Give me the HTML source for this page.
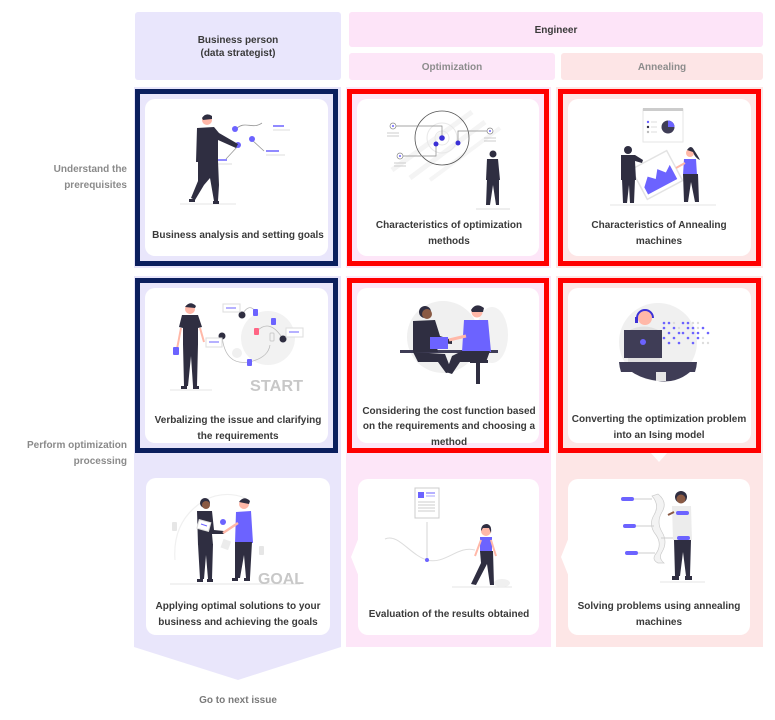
<!DOCTYPE html>
<html><head><meta charset="utf-8"><style>
html,body{margin:0;padding:0;background:#fff;}
svg{display:block;}
text{font-family:"Liberation Sans",Arial,sans-serif;}
.t{font-size:10px;font-weight:bold;fill:#3a3a3a;text-anchor:middle;}
.l{font-size:10px;font-weight:bold;fill:#8a8a8a;text-anchor:end;}
</style></head><body>
<svg width="775" height="720" viewBox="0 0 775 720" xmlns="http://www.w3.org/2000/svg">
<!-- headers -->
<rect x="135" y="12" width="206" height="68" rx="3" fill="#e9e6fc"/>
<rect x="349" y="12" width="414" height="35" rx="3" fill="#fde4f8"/>
<rect x="349" y="53" width="206" height="27" rx="3" fill="#fde6f8"/>
<rect x="561" y="53" width="202" height="27" rx="3" fill="#fde5e6"/>
<text class="t" x="238" y="43" fill="#333">Business person</text>
<text class="t" x="238" y="56" fill="#333">(data strategist)</text>
<text class="t" x="556" y="33">Engineer</text>
<text class="t" x="452" y="70" style="fill:#8c8c8c">Optimization</text>
<text class="t" x="662" y="70" style="fill:#8c8c8c">Annealing</text>

<!-- column backgrounds -->
<rect x="134" y="87" width="207" height="181" fill="#e9e6fb"/>
<rect x="346" y="87" width="205" height="181" fill="#fde6f8"/>
<rect x="556" y="87" width="207" height="181" fill="#fde6e6"/>
<polygon points="134,276 341,276 341,647 238,680 134,647" fill="#e9e6fb"/>
<rect x="346" y="276" width="205" height="371" fill="#fde6f8"/>
<rect x="556" y="276" width="207" height="371" fill="#fde6e6"/>

<!-- left labels -->
<text class="l" x="127" y="172">Understand the</text>
<text class="l" x="127" y="188">prerequisites</text>
<text class="l" x="127" y="448">Perform optimization</text>
<text class="l" x="127" y="464">processing</text>
<text class="t" x="238" y="703" style="fill:#7a7a7a">Go to next issue</text>

<!-- row 1 cards -->
<rect x="145" y="99" width="183" height="157" rx="10" fill="#fff"/>
<rect x="357" y="99" width="182" height="157" rx="10" fill="#fff"/>
<rect x="568" y="99" width="183" height="157" rx="10" fill="#fff"/>
<rect x="137.5" y="91.5" width="198" height="172" fill="none" stroke="#0b1f5e" stroke-width="5"/>
<rect x="349.5" y="91.5" width="197" height="172" fill="none" stroke="#ff0000" stroke-width="5"/>
<rect x="560.5" y="91.5" width="198" height="172" fill="none" stroke="#ff0000" stroke-width="5"/>

<!-- row 2 cards -->
<rect x="145" y="288" width="183" height="155" rx="10" fill="#fff"/>
<rect x="357" y="288" width="182" height="155" rx="10" fill="#fff"/>
<rect x="568" y="288" width="183" height="155" rx="10" fill="#fff"/>
<polygon points="650,452 668,452 659,462" fill="#fff"/>
<rect x="137.5" y="280.5" width="198" height="170" fill="none" stroke="#0b1f5e" stroke-width="5"/>
<rect x="349.5" y="280.5" width="197" height="170" fill="none" stroke="#ff0000" stroke-width="5"/>
<rect x="560.5" y="280.5" width="198" height="170" fill="none" stroke="#ff0000" stroke-width="5"/>

<!-- row 3 cards -->
<rect x="146" y="478" width="184" height="157" rx="10" fill="#fff"/>
<rect x="358" y="479" width="181" height="156" rx="10" fill="#fff"/>
<rect x="568" y="479" width="182" height="156" rx="10" fill="#fff"/>
<polygon points="359,537 351,557 359,577" fill="#fff"/>
<polygon points="569,537 561,557 569,577" fill="#fff"/>

<!-- texts -->
<text class="t" x="238" y="238">Business analysis and setting goals</text>
<text class="t" x="449" y="228">Characteristics of optimization</text>
<text class="t" x="449" y="244">methods</text>
<text class="t" x="659" y="228">Characteristics of Annealing</text>
<text class="t" x="659" y="244">machines</text>
<text class="t" x="238" y="423">Verbalizing the issue and clarifying</text>
<text class="t" x="238" y="439">the requirements</text>
<text class="t" x="449" y="414">Considering the cost function based</text>
<text class="t" x="449" y="429">on the requirements and choosing a</text>
<text class="t" x="449" y="445">method</text>
<text class="t" x="659" y="422">Converting the optimization problem</text>
<text class="t" x="659" y="438">into an Ising model</text>
<text class="t" x="238" y="609">Applying optimal solutions to your</text>
<text class="t" x="238" y="625">business and achieving the goals</text>
<text class="t" x="449" y="617">Evaluation of the results obtained</text>
<text class="t" x="659" y="609">Solving problems using annealing</text>
<text class="t" x="659" y="625">machines</text>

<!-- ===== B1 illustration ===== -->
<g>
<line x1="180" y1="204" x2="236" y2="204" stroke="#e6e6e6" stroke-width="1"/>
<path d="M236,129 C245,120 252,130 262,123" stroke="#999" fill="none" stroke-width="0.8"/>
<line x1="252" y1="140" x2="264" y2="151" stroke="#999" stroke-width="0.8"/>
<line x1="238" y1="146" x2="226" y2="159" stroke="#999" stroke-width="0.8"/>
<line x1="273" y1="126" x2="284" y2="126" stroke="#6c63ff" stroke-width="1.5"/>
<line x1="273" y1="130" x2="290" y2="130" stroke="#ddd" stroke-width="1"/>
<line x1="266" y1="151" x2="279" y2="151" stroke="#6c63ff" stroke-width="1.5"/>
<line x1="266" y1="155" x2="285" y2="155" stroke="#ddd" stroke-width="1"/>
<line x1="215" y1="160" x2="227" y2="160" stroke="#6c63ff" stroke-width="1.5"/>
<line x1="215" y1="164" x2="232" y2="164" stroke="#ddd" stroke-width="1"/>
<circle cx="235" cy="129" r="3" fill="#6c63ff"/>
<circle cx="252" cy="139" r="3" fill="#6c63ff"/>
<circle cx="238" cy="145" r="3" fill="#6c63ff"/>
<circle cx="207" cy="120" r="5" fill="#ffb8a8"/>
<path d="M202,118 Q206,112 212,116 L212,119 L203,120 Z" fill="#2f2e41"/>
<path d="M197,128 L214,127 L219,133 L238,144 L236,148 L218,140 L218,162 L196,162 Z" fill="#2f2e41"/>
<path d="M198,161 L218,161 L219,185 L218,201 L214,201 L210,178 L204,185 L195,200 L191,198 L198,181 Z" fill="#2f2e41"/>
<rect x="189" y="199" width="6" height="3" fill="#2f2e41"/>
<rect x="213" y="201" width="6" height="3" fill="#2f2e41"/>
</g>

<!-- ===== O1 illustration ===== -->
<g>
<line x1="392" y1="170" x2="472" y2="112" stroke="#f4f4f4" stroke-width="5"/>
<line x1="410" y1="178" x2="485" y2="122" stroke="#f4f4f4" stroke-width="5"/>
<line x1="430" y1="180" x2="500" y2="128" stroke="#f5f5f5" stroke-width="4"/>
<circle cx="442" cy="138" r="27" fill="none" stroke="#555" stroke-width="0.8"/>
<circle cx="442" cy="138" r="15" fill="none" stroke="#e8e8e8" stroke-width="1"/>
<circle cx="442" cy="138" r="7" fill="none" stroke="#e8e8e8" stroke-width="1"/>
<polyline points="396,126 442,126 442,137" fill="none" stroke="#888" stroke-width="0.7"/>
<polyline points="403,156 436,156 436,144" fill="none" stroke="#888" stroke-width="0.7"/>
<polyline points="487,131 458,131 458,143" fill="none" stroke="#888" stroke-width="0.7"/>
<circle cx="393" cy="126" r="3" fill="#fff" stroke="#888" stroke-width="0.7"/><circle cx="393" cy="126" r="1" fill="#6c63ff"/>
<circle cx="400" cy="156" r="3" fill="#fff" stroke="#888" stroke-width="0.7"/><circle cx="400" cy="156" r="1" fill="#6c63ff"/>
<circle cx="490" cy="131" r="3" fill="#fff" stroke="#888" stroke-width="0.7"/><circle cx="490" cy="131" r="1" fill="#6c63ff"/>
<line x1="387" y1="133" x2="399" y2="133" stroke="#ccc"/><line x1="387" y1="136" x2="399" y2="136" stroke="#ccc"/>
<line x1="394" y1="163" x2="406" y2="163" stroke="#ccc"/><line x1="394" y1="166" x2="406" y2="166" stroke="#ccc"/>
<line x1="484" y1="138" x2="496" y2="138" stroke="#ccc"/><line x1="484" y1="141" x2="496" y2="141" stroke="#ccc"/>
<circle cx="442" cy="138" r="2.8" fill="#3b30d6"/>
<circle cx="436" cy="144" r="2.5" fill="#3b30d6"/>
<circle cx="458" cy="143" r="2.5" fill="#3b30d6"/>
<line x1="476" y1="209" x2="510" y2="209" stroke="#ddd"/>
<circle cx="493" cy="154" r="3.5" fill="#2f2e41"/>
<path d="M487,159 L498,159 L500,180 L486,180 Z" fill="#2f2e41"/>
<path d="M487,179 L499,179 L499,205 L496,205 L493,185 L490,205 L486,205 Z" fill="#2f2e41"/>
</g>

<!-- ===== A1 illustration ===== -->
<g>
<rect x="643" y="109" width="40" height="33" fill="#fff" stroke="#e6e6e6"/>
<rect x="643" y="108" width="40" height="3" fill="#ccc"/>
<circle cx="668" cy="127" r="6.5" fill="#3f3d56"/>
<path d="M668,127 L668,120.5 A6.5,6.5 0 0 1 674.5,127 Z" fill="#6c63ff"/>
<circle cx="648" cy="122" r="1.2" fill="#6c63ff"/><line x1="651" y1="122" x2="657" y2="122" stroke="#ddd"/>
<circle cx="648" cy="127" r="1.2" fill="#2f2e41"/><line x1="651" y1="127" x2="657" y2="127" stroke="#ddd"/>
<circle cx="648" cy="132" r="1.2" fill="#bbb"/><line x1="651" y1="132" x2="657" y2="132" stroke="#ddd"/>
<g transform="rotate(-28 657 175)">
<rect x="637" y="158" width="40" height="34" fill="#fff" stroke="#e3e3e3" stroke-width="1.5"/>
<polygon points="640,180 648,172 654,178 660,170 666,177 673,172 673,188 640,188" fill="#6c63ff"/>
</g>
<line x1="610" y1="205" x2="716" y2="205" stroke="#e6e6e6"/>
<circle cx="628" cy="150" r="4" fill="#2f2e41"/>
<path d="M621,155 L635,155 L643,160 L642,163 L635,161 L636,180 L621,180 Z" fill="#2f2e41"/>
<path d="M622,179 L635,179 L634,203 L630,203 L629,185 L627,203 L623,203 Z" fill="#2f2e41"/>
<circle cx="690" cy="153" r="4" fill="#ffb8a8"/>
<path d="M687,150 Q691,144 694,150 Q698,156 700,160 Q695,158 693,152 Z" fill="#2f2e41"/>
<path d="M684,159 L696,159 L697,175 L683,175 Z" fill="#6c63ff"/>
<line x1="685" y1="163" x2="676" y2="168" stroke="#ffb8a8" stroke-width="2"/>
<path d="M683,174 L698,174 L699,202 L695,202 L691,182 L688,202 L684,202 Z" fill="#2f2e41"/>
</g>

<!-- ===== B2 illustration ===== -->
<g>
<circle cx="268" cy="338" r="27" fill="#f2f2f2"/>
<circle cx="237" cy="353" r="5" fill="#f0f0f0"/>
<path d="M222,336 Q225,366 249,362 Q268,358 270,345" fill="none" stroke="#bbb" stroke-width="0.8"/>
<path d="M242,315 Q249,302 256,312" fill="none" stroke="#bbb" stroke-width="0.8"/>
<path d="M257,331 Q270,318 283,339" fill="none" stroke="#bbb" stroke-width="0.8"/>
<circle cx="222" cy="336" r="3.5" fill="#2f2e41"/>
<circle cx="242" cy="315" r="3.5" fill="#2f2e41"/>
<circle cx="283" cy="339" r="3.5" fill="#2f2e41"/>
<rect x="223" y="304" width="17" height="8" fill="#fff" stroke="#ddd"/><line x1="226" y1="308" x2="236" y2="308" stroke="#6c63ff"/>
<rect x="206" y="338" width="16" height="9" fill="#fff" stroke="#ddd"/><line x1="209" y1="342" x2="219" y2="342" stroke="#6c63ff"/>
<rect x="286" y="328" width="17" height="9" fill="#fff" stroke="#ddd"/><line x1="289" y1="332" x2="299" y2="332" stroke="#6c63ff"/>
<rect x="253" y="309" width="5" height="7" rx="1" fill="#6c63ff"/>
<rect x="271" y="318" width="5" height="7" rx="1" fill="#6c63ff"/>
<rect x="254" y="328" width="5" height="7" rx="1" fill="#ff6584"/>
<rect x="270" y="333" width="4" height="8" rx="1" fill="none" stroke="#ccc"/>
<rect x="247" y="359" width="5" height="7" rx="1" fill="#6c63ff"/>
<text x="250" y="391" font-size="16" font-weight="bold" fill="#c8c8c8" textLength="53" lengthAdjust="spacingAndGlyphs">START</text>
<line x1="170" y1="390" x2="212" y2="390" stroke="#e6e6e6"/>
<circle cx="190" cy="309" r="5" fill="#ffb8a8"/>
<path d="M185,307 Q190,300 196,306 L195,308 Z" fill="#2f2e41"/>
<path d="M182,315 L198,315 L202,327 L198,328 L198,345 L183,345 L183,328 L179,327 Z" fill="#2f2e41"/>
<line x1="181" y1="328" x2="177" y2="349" stroke="#ffb8a8" stroke-width="2"/>
<line x1="200" y1="328" x2="204" y2="342" stroke="#ffb8a8" stroke-width="2"/>
<rect x="173" y="347" width="6" height="8" rx="1" fill="#6c63ff"/>
<path d="M183,344 L198,344 L197,386 L193,386 L191,356 L188,386 L184,386 Z" fill="#2f2e41"/>
<rect x="181" y="386" width="6" height="3" fill="#2f2e41"/><rect x="193" y="386" width="6" height="3" fill="#2f2e41"/>
</g>

<!-- ===== O2 illustration ===== -->
<g>
<circle cx="443" cy="337" r="36" fill="#f0f0f0"/>
<ellipse cx="492" cy="335" rx="16" ry="28" fill="#f2f2f2"/>
<rect x="400" y="350" width="98" height="3" fill="#3f3d56"/>
<circle cx="425" cy="312" r="6" fill="#2f2e41"/>
<circle cx="427" cy="314" r="5" fill="#8a5a44"/>
<path d="M413,321 L435,320 L440,336 L452,340 L452,344 L436,343 L438,352 L413,352 Z" fill="#2f2e41"/>
<path d="M413,352 L445,354 L452,372 L446,373 L438,362 L418,362 Z" fill="#2f2e41"/>
<rect x="430" y="337" width="18" height="12" fill="#6c63ff"/>
<circle cx="477" cy="312" r="5.5" fill="#ffb8a8"/>
<path d="M471,310 Q476,302 484,308 L483,312 L472,312 Z" fill="#2f2e41"/>
<path d="M464,320 L488,320 L491,352 L462,352 Z" fill="#6c63ff"/>
<line x1="466" y1="336" x2="449" y2="340" stroke="#ffb8a8" stroke-width="3"/>
<path d="M462,351 L490,351 L486,362 L460,362 L452,374 L446,372 L452,356 Z" fill="#2f2e41"/>
<rect x="476" y="362" width="4" height="22" fill="#2f2e41"/>
<rect x="470" y="360" width="18" height="3" fill="#2f2e41"/>
</g>

<!-- ===== A2 illustration ===== -->
<g>
<circle cx="658" cy="342" r="39" fill="#f0f0f0"/>
<path d="M628,331 Q644,322 660,331 L660,362 L628,362 Z" fill="#e0e0e0"/>
<circle cx="645" cy="318" r="7" fill="#ffb8a8"/>
<path d="M637,318 A8,8 0 0 1 653,318" fill="none" stroke="#3b30d6" stroke-width="2"/>
<rect x="635" y="317" width="3" height="6" fill="#3b30d6"/>
<rect x="624" y="330" width="38" height="28" fill="#3f3d56"/>
<circle cx="643" cy="342" r="3" fill="#6c63ff"/>
<path d="M619,362 L697,362 A39,39 0 0 1 695,372 L621,372 A39,39 0 0 1 619,362 Z" fill="#3f3d56"/>
<path d="M632,372 L690,372 A39,39 0 0 1 658,381 Q642,379 632,372 Z" fill="#3f3d56"/>
<rect x="656" y="372" width="10" height="9" fill="#e6e6e6"/>
<g fill="#6c63ff">
<circle cx="664" cy="323" r="1.3"/><circle cx="669" cy="323" r="1.3"/><circle cx="683" cy="323" r="1.3"/><circle cx="688" cy="323" r="1.3"/>
<circle cx="664" cy="328" r="1.3"/><circle cx="674" cy="328" r="1.3"/><circle cx="688" cy="328" r="1.3"/><circle cx="693" cy="328" r="1.3"/><circle cx="703" cy="328" r="1.3"/>
<circle cx="669" cy="333" r="1.3"/><circle cx="679" cy="333" r="1.3"/><circle cx="683" cy="333" r="1.3"/><circle cx="693" cy="333" r="1.3"/><circle cx="698" cy="333" r="1.3"/><circle cx="708" cy="333" r="1.3"/>
<circle cx="664" cy="338" r="1.3"/><circle cx="674" cy="338" r="1.3"/><circle cx="688" cy="338" r="1.3"/><circle cx="698" cy="338" r="1.3"/>
<circle cx="669" cy="343" r="1.3"/><circle cx="679" cy="343" r="1.3"/><circle cx="693" cy="343" r="1.3"/>
</g>
<g fill="#ddd">
<circle cx="674" cy="323" r="1.2"/><circle cx="693" cy="323" r="1.2"/><circle cx="698" cy="323" r="1.2"/>
<circle cx="679" cy="328" r="1.2"/><circle cx="698" cy="328" r="1.2"/><circle cx="703" cy="338" r="1.2"/>
<circle cx="703" cy="343" r="1.2"/><circle cx="708" cy="343" r="1.2"/>
</g>
</g>

<!-- ===== B3 illustration ===== -->
<g>
<path d="M175,560 Q172,520 205,500 Q225,490 245,498" fill="none" stroke="#f0f0f0" stroke-width="1.2"/>
<line x1="170" y1="584" x2="300" y2="584" stroke="#e6e6e6"/>
<rect x="172" y="522" width="5" height="9" rx="1" fill="#e6e6e6"/>
<rect x="259" y="546" width="5" height="9" rx="1" fill="#e6e6e6"/>
<rect x="222" y="540" width="8" height="9" fill="#ececec" transform="rotate(20 226 544)"/>
<text x="258" y="584" font-size="16" font-weight="bold" fill="#c8c8c8" textLength="46" lengthAdjust="spacingAndGlyphs">GOAL</text>
<circle cx="205" cy="503" r="5" fill="#2f2e41"/>
<circle cx="206" cy="505" r="4" fill="#8a5a44"/>
<path d="M197,511 L212,511 L214,530 L224,531 L224,534 L212,534 L213,545 L198,545 Z" fill="#2f2e41"/>
<rect x="198" y="521" width="12" height="9" fill="#fff" stroke="#ddd" transform="rotate(15 204 525)"/>
<line x1="201" y1="524" x2="207" y2="526" stroke="#6c63ff"/>
<path d="M198,544 L213,544 L212,579 L208,579 L206,555 L204,579 L200,579 Z" fill="#2f2e41"/>
<rect x="197" y="579" width="6" height="3" fill="#2f2e41"/><rect x="207" y="579" width="6" height="3" fill="#2f2e41"/>
<circle cx="223" cy="522" r="3" fill="#6c63ff"/>
<circle cx="244" cy="504" r="5" fill="#ffb8a8"/>
<path d="M239,502 Q244,495 250,501 L249,504 Z" fill="#2f2e41"/>
<path d="M236,512 L251,511 L253,543 L235,543 Z" fill="#6c63ff"/>
<line x1="238" y1="523" x2="223" y2="533" stroke="#ffb8a8" stroke-width="2.5"/>
<path d="M235,542 L252,542 L250,578 L246,578 L244,555 L240,578 L235,578 Z" fill="#2f2e41"/>
<rect x="232" y="578" width="6" height="3" fill="#2f2e41"/><rect x="244" y="578" width="6" height="3" fill="#2f2e41"/>
</g>

<!-- ===== O3 illustration ===== -->
<g>
<rect x="415" y="488" width="24" height="30" fill="#fff" stroke="#ccc" stroke-width="1"/>
<rect x="418" y="492" width="6" height="6" fill="#6c63ff"/>
<line x1="426" y1="493" x2="435" y2="493" stroke="#6c63ff"/>
<line x1="426" y1="496" x2="435" y2="496" stroke="#a9a4ff"/>
<line x1="418" y1="502" x2="435" y2="502" stroke="#ccc"/>
<line x1="418" y1="505" x2="435" y2="505" stroke="#ccc"/>
<line x1="418" y1="508" x2="435" y2="508" stroke="#ccc"/>
<line x1="418" y1="511" x2="435" y2="511" stroke="#ccc"/>
<line x1="427" y1="522" x2="427" y2="559" stroke="#ccc" stroke-width="0.8"/>
<path d="M385,539 C398,533 410,555 427,560 C445,565 458,545 475,550" fill="none" stroke="#ddd" stroke-width="1"/>
<circle cx="427" cy="560" r="2" fill="#6c63ff"/>
<line x1="452" y1="587" x2="512" y2="587" stroke="#e6e6e6"/>
<ellipse cx="502" cy="583" rx="8" ry="4" fill="#f0f0f0"/>
<circle cx="486" cy="531" r="5" fill="#ffb8a8"/>
<path d="M481,531 Q481,524 487,524 Q492,525 491,533 L489,528 L483,528 Z" fill="#2f2e41"/>
<rect x="480" y="537" width="12" height="15" fill="#6c63ff"/>
<line x1="481" y1="540" x2="475" y2="556" stroke="#ffb8a8" stroke-width="2"/>
<line x1="491" y1="540" x2="496" y2="556" stroke="#ffb8a8" stroke-width="2"/>
<path d="M480,551 L493,551 L494,585 L490,585 L487,564 L476,585 L471,584 L481,563 Z" fill="#2f2e41"/>
</g>

<!-- ===== A3 illustration ===== -->
<g>
<path d="M652,496 Q660,505 654,515 Q648,525 656,535 Q663,545 655,555 Q652,560 658,563 L664,563 Q658,558 662,552 Q668,542 662,532 Q656,522 662,512 Q668,502 658,494 Z" fill="#f3f3f3" stroke="#ccc" stroke-width="0.7"/>
<line x1="633" y1="499" x2="652" y2="499" stroke="#ccc"/>
<line x1="636" y1="526" x2="654" y2="526" stroke="#ccc"/>
<line x1="638" y1="553" x2="655" y2="553" stroke="#ccc"/>
<line x1="661" y1="538" x2="674" y2="538" stroke="#ccc"/>
<rect x="621" y="497" width="13" height="4" rx="2" fill="#6c63ff"/>
<rect x="623" y="524" width="13" height="4" rx="2" fill="#6c63ff"/>
<rect x="625" y="551" width="13" height="4" rx="2" fill="#6c63ff"/>
<line x1="660" y1="582" x2="705" y2="582" stroke="#e6e6e6"/>
<circle cx="681" cy="497" r="6" fill="#2f2e41"/>
<circle cx="681" cy="499" r="4.5" fill="#8a5a44"/>
<path d="M672,506 L691,506 L692,540 L673,540 Z" fill="#ececec"/>
<line x1="674" y1="512" x2="668" y2="515" stroke="#8a5a44" stroke-width="2"/>
<rect x="676" y="511" width="13" height="4" rx="2" fill="#6c63ff"/>
<rect x="677" y="536" width="13" height="4" rx="2" fill="#6c63ff"/>
<path d="M674,540 L691,540 L690,576 L686,576 L683,552 L680,576 L675,576 Z" fill="#2f2e41"/>
<rect x="672" y="576" width="7" height="4" fill="#2f2e41"/><rect x="685" y="576" width="7" height="4" fill="#2f2e41"/>
</g>
</svg>
</body></html>
